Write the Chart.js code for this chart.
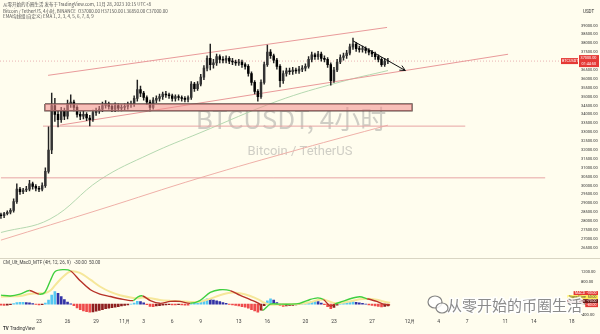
<!DOCTYPE html>
<html>
<head>
<meta charset="utf-8">
<script src="https://cdn.jsdelivr.net/npm/chart.js@4.4.0/dist/chart.umd.min.js"></script>
<style>
body{margin:0;background:#fffdee;}
#wrap{position:relative;width:600px;height:334px;overflow:hidden;background:#fffdee;}
canvas{position:absolute;left:0;}
#c1{top:0;}
#c2{top:258px;}
</style>
</head>
<body>
<div id="wrap">
<canvas id="c1" width="600" height="258"></canvas>
<canvas id="c2" width="600" height="76"></canvas>
</div>
<script>
// BTCUSDT candles, one per 8h, day 0 = Oct 19 00:00
var firstOpen = 28350;
var closes = [28300,28420,28500,28600,29100,29800,29650,29750,29800,30100,
  29950,29850,29800,30000,30800,32000,34500,34000,33700,34200,
  33900,34600,34700,34400,34000,33900,34000,33800,33700,34100,
  34200,34300,34500,34600,34450,34300,34500,34350,34400,34450,
  34550,34600,34900,35400,35200,34950,34700,34400,34800,34900,
  35000,35150,35100,35050,34900,35000,34950,34900,34850,34950,
  35700,35450,35700,36100,36600,37150,36800,36900,37250,37100,
  37050,37150,37000,36950,36900,36950,36800,36700,36300,35800,
  35300,35000,35800,36800,37500,37300,37050,36700,35900,36300,
  36450,36400,36500,36450,36550,36600,36700,37100,37350,37250,
  37400,37150,37100,36800,35900,36500,36950,37200,37300,37450,
  37800,37950,37700,37650,37700,37600,37500,37400,37250,37100,
  36800,37000,37000];
var highs = [28450,28500,28580,28700,29250,30100,29900,29850,29950,30300,
  30200,30050,29950,30150,31000,33300,35200,34900,34200,34400,
  34350,34800,35100,34800,34500,34150,34200,34100,33950,34250,
  34350,34450,34700,34780,34700,34550,34650,34600,34550,34600,
  34700,34750,35050,35930,35600,35300,35050,34800,34950,35050,
  35150,35250,35300,35200,35150,35100,35100,35050,35000,35050,
  35850,35800,35850,36250,36750,37300,37950,37100,37400,37350,
  37250,37300,37250,37150,37050,37100,37050,36900,36800,36400,
  35900,35400,35950,36950,37900,37650,37400,37150,36800,36450,
  36600,36600,36650,36600,36700,36750,36850,37250,37500,37450,
  37550,37500,37300,37200,36900,36650,37100,37350,37450,37600,
  37950,38300,38050,37850,37850,37800,37700,37600,37500,37350,
  37200,37150,37150];
var lows = [28150,28200,28350,28400,28500,29000,29500,29550,29650,29700,
  29800,29700,29650,29700,29900,30700,31800,33600,33300,33550,
  33700,33750,34400,34200,33850,33700,33750,33650,33350,33600,
  33950,34050,34150,34350,34300,34150,34150,34200,34200,34250,
  34300,34400,34450,34750,35000,34800,34550,34200,34300,34650,
  34750,34850,34950,34900,34750,34750,34800,34750,34700,34700,
  34850,35300,35350,35600,35950,36450,36500,36600,36750,36900,
  36900,36900,36850,36800,36750,36750,36650,36550,36150,35650,
  35150,34750,34900,35700,36700,37150,36900,36550,35550,35750,
  36150,36250,36250,36300,36300,36400,36450,36600,36950,37100,
  37100,37000,36950,36650,35650,35800,36400,36850,37050,37150,
  37350,37650,37550,37500,37500,37450,37350,37250,37100,36950,
  36700,36700,36850];

// moving averages (day, price)
var emaFastDays = [0, 5.16, 10.41, 15.67, 20.92, 29.02, 35.64, 40.68];
var emaFast = [27362, 28116, 30325, 31780, 32965, 34743, 35821, 36468];
var emaSlowDays = [0, 10.41, 20.92, 31.43, 40.68];
var emaSlow = [26931, 28655, 30433, 32050, 33397];

// drawings (day, price)
var zoneDays = [4.63, 43.2];
var zonePrices = [34582, 34205];
var level1Days = [4.42, 48.8];
var level1 = 33343;
var level2Days = [0, 57.2];
var level2 = 30433;
var upperChDays = [4.95, 40.58];
var upperCh = [36198, 38892];
var lowerChDays = [6.21, 53.3];
var lowerCh = [33397, 37384];
var arrowDays = [37.0, 42.5];
var arrowPrices = [38138, 36468];

// MACD pane
var macdDays = [0,1,2,3,4,4.6,5.2,5.7,6.5,7.3,8.3,9.4,10.4,11.5,12.5,13.9,14.4,14.9,15.7,16.7,17.8,18.8,19.9,20.9,22,23,24.1,25.1,26.2,27.2,27.5,28.3,29.3,30.4,31.4,32.5,33.3,33.9,34.6,35.1,35.9,36.7,37.7,38.5,39.5,40.2,40.9];
var macdLine = [330,300,370,500,370,430,870,1200,1270,1230,870,530,370,280,200,130,270,300,130,30,100,100,30,130,430,530,500,330,170,0,-230,0,0,0,30,170,230,170,-70,0,100,200,270,200,100,0,-30];
var signalLine = [270,290,300,370,400,400,500,700,1000,1200,1150,900,650,450,330,230,220,240,220,150,120,110,80,90,200,330,420,400,300,150,80,-20,-10,0,10,70,150,170,90,40,50,100,180,200,160,100,50];
var histVals = [-40,-50,-40,-20,20,60,70,70,60,50,
  20,-10,-30,-20,40,150,330,460,400,280,
  170,80,10,-60,-140,-200,-250,-280,-300,-290,
  -260,-230,-200,-170,-150,-130,-110,-90,-70,-50,
  -30,0,40,100,90,50,-20,-80,-90,-70,
  -60,-40,-30,-20,-30,-30,-20,-30,-40,-40,
  0,30,60,100,150,200,190,150,120,90,
  60,30,-10,-30,-50,-70,-90,-110,-150,-200,
  -250,-300,-220,-60,120,200,150,60,-60,-80,
  -70,-60,-50,-30,-10,20,40,70,100,100,
  90,40,-20,-90,-170,-120,-40,20,50,80,
  90,90,70,50,30,0,-30,-50,-70,-80,
  -100,-80,-70];

// axes
var xTickDays = [4,7,10,13,15,18,21,25,28,32,35,39,43,46,49,53,56,60];
var xTickLabels = ["23","26","29","11月","3","6","9","13","16","20","23","27","12月","4","7","11","14","18"];
var priceTicks = [39000,38500,38000,37500,37000,36500,36000,35500,35000,34500,34000,33500,33000,32500,32000,31500,31000,30500,30000,29500,29000,28500,28000,27500,27000,26500];
var macdTicks = [1200,800,400,0,-400];

var X_MIN = -0.1, X_MAX = 60.65;
var BG = '#fffdee';

var opens = closes.map(function(c,i){ return i === 0 ? firstOpen : closes[i-1]; });
var days = closes.map(function(c,i){ return i/3; });
var lastClose = closes[closes.length-1];

function pts(xs, ys){ return xs.map(function(x,i){ return {x:x, y:ys[i]}; }); }
function lineDs(data, color, extra){
  var d = {type:'line', data:data, borderColor:color, borderWidth:1, pointRadius:0, fill:false, order:5};
  for (var k in extra) d[k] = extra[k];
  return d;
}

var bgPlugin = {
  id:'bg',
  beforeDraw: function(chart){
    var c = chart.ctx;
    c.save(); c.fillStyle = BG; c.fillRect(0,0,chart.width,chart.height); c.restore();
  }
};

var mainPlugin = {
  id:'mainDeco',
  beforeDatasetsDraw: function(chart){
    var c = chart.ctx;
    c.save();
    c.fillStyle = 'rgba(140,140,140,0.42)';
    c.textAlign = 'center';
    c.font = '26px "Noto Sans CJK SC", Roboto, sans-serif';
    c.fillText('BTCUSDT, 4小时', 291, 129);
    c.font = '13px Roboto, "Noto Sans", sans-serif';
    c.fillText('Bitcoin / TetherUS', 300, 155);
    c.restore();
  },
  afterDraw: function(chart){
    var c = chart.ctx;
    c.save();
    // arrow head
    var meta = chart.getDatasetMeta(chart.data.datasets.findIndex(function(d){ return d.label === 'arrow'; }));
    var p0 = meta.data[0], p1 = meta.data[1];
    var ang = Math.atan2(p1.y - p0.y, p1.x - p0.x);
    c.strokeStyle = '#111'; c.lineWidth = 1;
    c.beginPath();
    c.moveTo(p1.x - 6*Math.cos(ang - 0.45), p1.y - 6*Math.sin(ang - 0.45));
    c.lineTo(p1.x, p1.y);
    c.lineTo(p1.x - 6*Math.cos(ang + 0.45), p1.y - 6*Math.sin(ang + 0.45));
    c.stroke();
    // top-left legend
    c.fillStyle = '#555';
    c.font = '4.5px "Noto Sans CJK SC", sans-serif';
    c.textAlign = 'left'; c.textBaseline = 'middle';
    c.fillText('从零开始的币圈生活 发布于TradingView.com, 11月 28, 2023 10:15 UTC+8', 3, 4);
    var n = closes.length - 1;
    c.fillText('Bitcoin / TetherUS, 4小时, BINANCE  O' + opens[n].toFixed(2) + ' H' + highs[n].toFixed(2) + ' L' + lows[n].toFixed(2) + ' C' + closes[n].toFixed(2), 3, 11);
    c.fillText('EMA均线组(自定义) EMA 1, 2, 3, 4, 5, 6, 7, 8, 9', 3, 16);
    // axis unit
    c.fillStyle = '#333';
    c.font = '4.5px Roboto, sans-serif';
    c.fillText('USDT', 583, 12);
    // price tags
    var y = chart.scales.y.getPixelForValue(lastClose);
    c.fillStyle = '#e53935';
    c.fillRect(561, y - 3, 17, 6);
    c.fillRect(579, y - 6, 20, 12);
    c.fillStyle = '#fff';
    c.font = '3.8px Roboto, sans-serif';
    c.fillText('BTCUSDT', 562, y);
    c.fillText(lastClose.toFixed(2), 580.5, y - 3);
    c.fillText('01:44:50', 581.5, y + 3);
    c.restore();
  }
};

var ch1 = new Chart(document.getElementById('c1'), {
  type:'bar',
  data:{
    datasets:[
      lineDs([{x:zoneDays[0],y:zonePrices[0]},{x:zoneDays[1],y:zonePrices[0]}], 'rgba(0,0,0,0)', {fill:{value:zonePrices[1]}, backgroundColor:'rgba(242,140,140,0.55)', order:0}),
      lineDs([{x:zoneDays[0],y:zonePrices[0]},{x:zoneDays[1],y:zonePrices[0]},{x:zoneDays[1],y:zonePrices[1]},{x:zoneDays[0],y:zonePrices[1]},{x:zoneDays[0],y:zonePrices[0]}], '#5d4a46', {borderWidth:1.5, order:0}),
      lineDs(pts(level1Days,[level1,level1]), '#e7a4a4'),
      lineDs(pts(level2Days,[level2,level2]), '#e7a4a4'),
      lineDs(pts(upperChDays,upperCh), '#e99a9a'),
      lineDs(pts(lowerChDays,lowerCh), '#e99a9a'),
      lineDs(pts(emaSlowDays,emaSlow), '#efb0a8', {tension:0.4, order:6}),
      lineDs(pts(emaFastDays,emaFast), '#b5d8b0', {tension:0.4, order:6}),
      lineDs([{x:X_MIN,y:lastClose},{x:X_MAX,y:lastClose}], '#e8b4b4', {borderDash:[1,2], order:7}),
      lineDs(pts(arrowDays,arrowPrices), '#111', {label:'arrow', order:0}),
      {type:'bar', data:days.map(function(d,i){ return {x:d, y:[lows[i], highs[i]]}; }),
        backgroundColor:'#222', barThickness:0.8, grouped:false, order:2},
      {type:'bar', data:days.map(function(d,i){ var o=opens[i], cl=closes[i]; return {x:d, y:[o, cl===o ? o+20 : cl]}; }),
        backgroundColor:closes.map(function(cl,i){ return cl >= opens[i] ? '#333' : '#000'; }),
        barThickness:1.8, grouped:false, order:1}
    ]
  },
  options:{
    responsive:false, animation:false, devicePixelRatio:1, events:[],
    layout:{padding:0},
    plugins:{legend:{display:false}, tooltip:{enabled:false}},
    scales:{
      x:{type:'linear', min:X_MIN, max:X_MAX, offset:false, display:false, grid:{display:false, drawTicks:false}},
      y:{position:'right', min:26230, max:40131, grid:{display:false, drawTicks:false}, border:{display:false},
        afterBuildTicks:function(s){ s.ticks = priceTicks.map(function(v){ return {value:v}; }); },
        afterFit:function(s){ s.width = 22; },
        ticks:{font:{size:4, family:'Roboto'}, color:'#333', padding:3, callback:function(v){ return Number(v).toFixed(2); }}}
    }
  },
  plugins:[bgPlugin, mainPlugin]
});

var macdPlugin = {
  id:'macdDeco',
  beforeDatasetsDraw: function(chart){
    var c = chart.ctx;
    c.save();
    c.strokeStyle = '#d9d5c3'; c.lineWidth = 1;
    c.beginPath(); c.moveTo(0, 0.5); c.lineTo(600, 0.5); c.stroke();
    c.restore();
  },
  afterDraw: function(chart){
    var c = chart.ctx;
    c.save();
    c.textBaseline = 'middle'; c.textAlign = 'left';
    c.fillStyle = '#444';
    c.font = '4.5px Roboto, sans-serif';
    var n = macdLine.length - 1;
    c.fillText('CM_Ult_MacD_MTF (4H, 12, 26, 9)   ' + macdLine[n].toFixed(2) + '  ' + signalLine[n].toFixed(2), 3, 5);
    // value tags
    var z = chart.scales.y.getPixelForValue(0);
    var tags = [
      ['#e53935','#fff','MACD  ' + macdLine[n].toFixed(2), -13],
      ['#ffee58','#333','Signal Line  ' + signalLine[n].toFixed(2), -9],
      ['#6d1b1b','#fff','Histogram  ' + histVals[histVals.length-1].toFixed(2), -5],
      ['#e53935','#fff',(macdLine[n]-signalLine[n]).toFixed(2), -1]
    ];
    c.font = '3.5px Roboto, sans-serif';
    tags.forEach(function(t){
      var w = c.measureText(t[2]).width + 3;
      c.fillStyle = t[0]; c.fillRect(598 - w, z + t[3], w, 4);
      c.fillStyle = t[1]; c.fillText(t[2], 599.5 - w, z + t[3] + 2);
    });
    // watermark
    c.font = '15px "Noto Sans CJK SC", sans-serif';
    c.lineWidth = 3; c.strokeStyle = 'rgba(255,255,255,0.9)';
    c.strokeText('从零开始的币圈生活', 447, 47);
    c.fillStyle = 'rgba(110,110,110,0.8)';
    c.fillText('从零开始的币圈生活', 447, 47);
    c.strokeStyle = 'rgba(110,110,110,0.85)'; c.lineWidth = 1.2;
    c.fillStyle = 'rgba(255,255,255,0.85)';
    c.beginPath(); c.ellipse(435, 44, 7, 6, 0, 0, Math.PI*2); c.fill(); c.stroke();
    c.beginPath(); c.ellipse(442, 50, 6, 5, 0, 0, Math.PI*2); c.fill(); c.stroke();
    // logo
    c.fillStyle = '#333';
    c.font = 'bold 4.5px Roboto, sans-serif';
    c.fillText('TV', 3, 71);
    c.font = '4.5px Roboto, sans-serif';
    c.fillText('TradingView', 10, 71);
    c.restore();
  }
};

var ch2 = new Chart(document.getElementById('c2'), {
  type:'bar',
  data:{
    datasets:[
      {type:'line', data:pts(macdDays, signalLine), borderColor:'#f6e79a', borderWidth:2, pointRadius:0, tension:0.3, order:3},
      {type:'line', data:pts(macdDays, macdLine), borderWidth:1.4, pointRadius:0, tension:0.3, order:2,
        borderColor:'#3fcf3f',
        segment:{borderColor:function(ctx){ var i = ctx.p1DataIndex; return macdLine[i] >= signalLine[i] ? '#3fcf3f' : '#b73228'; }}},
      {type:'bar', data:days.map(function(d,i){ return {x:d, y:histVals[i]}; }), barThickness:2, grouped:false, order:4,
        backgroundColor:histVals.map(function(v,i){
          var p = i > 0 ? histVals[i-1] : v;
          if (v >= 0) return v >= p ? '#55c8f2' : '#3232a6';
          return v <= p ? '#ef4b4b' : '#8e1f1f';
        })}
    ]
  },
  options:{
    responsive:false, animation:false, devicePixelRatio:1, events:[],
    layout:{padding:0},
    plugins:{legend:{display:false}, tooltip:{enabled:false}},
    scales:{
      x:{type:'linear', min:X_MIN, max:X_MAX, offset:false, grid:{display:false, drawTicks:false}, border:{display:false},
        afterBuildTicks:function(s){ s.ticks = xTickDays.map(function(v){ return {value:v}; }); },
        afterFit:function(s){ s.height = 19; },
        ticks:{font:{size:5, family:'Roboto'}, color:'#444', padding:4, maxRotation:0, autoSkip:false,
          callback:function(v){ return xTickLabels[xTickDays.indexOf(v)]; }}},
      y:{position:'right', min:-400, max:1500, grid:{display:false, drawTicks:false}, border:{display:false},
        afterBuildTicks:function(s){ s.ticks = macdTicks.map(function(v){ return {value:v}; }); },
        afterFit:function(s){ s.width = 22; },
        ticks:{font:{size:4, family:'Roboto'}, color:'#333', padding:3, callback:function(v){ return Number(v).toFixed(2); }}}
    }
  },
  plugins:[bgPlugin, macdPlugin]
});
</script>
</body>
</html>
